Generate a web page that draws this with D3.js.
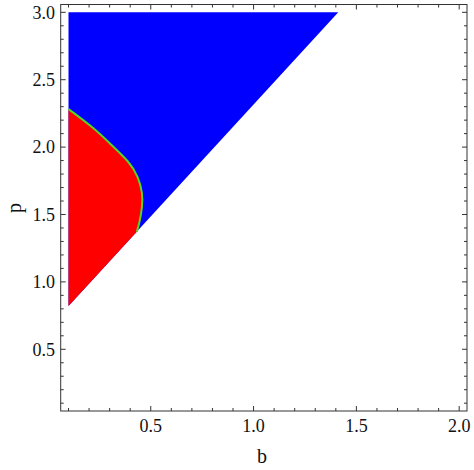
<!DOCTYPE html>
<html>
<head>
<meta charset="utf-8">
<script src="https://cdn.jsdelivr.net/npm/d3@7"></script>
<style>
  html, body { margin: 0; padding: 0; background: #fff; }
  svg { display: block; }
  text { font-family: "Liberation Serif", "DejaVu Serif", serif; fill: #111; }
</style>
</head>
<body>
<svg id="chart" width="474" height="470"></svg>
<script>
// ---- data ----
const bDomain = [0.1, 2.0];
const pDomain = [0.1, 3.0];
const xMajorTicks = [0.5, 1.0, 1.5, 2.0];
const xTickLabels = ["0.5", "1.0", "1.5", "2.0"];
const yMajorTicks = [0.5, 1.0, 1.5, 2.0, 2.5, 3.0];
const yTickLabels = ["0.5", "1.0", "1.5", "2.0", "2.5", "3.0"];
const xMinorTicks = [0.1,0.2,0.3,0.4,0.6,0.7,0.8,0.9,1.1,1.2,1.3,1.4,1.6,1.7,1.8,1.9];
const yMinorTicks = [0.1,0.2,0.3,0.4,0.6,0.7,0.8,0.9,1.1,1.2,1.3,1.4,1.6,1.7,1.8,1.9,2.1,2.2,2.3,2.4,2.6,2.7,2.8,2.9];
// feasible-region boundary (diagonal) and top edge
const boundaryB = [0.1, 1.412];
const boundaryP = [0.821, 3.0];
const topP = 3.0;
const leftB = 0.1;
// green separating curve
const greenB = [0.1, 0.217, 0.312, 0.389, 0.436, 0.457, 0.457, 0.445, 0.432];
const greenP = [2.282, 2.145, 2.012, 1.893, 1.778, 1.659, 1.555, 1.444, 1.372];

// ---- layout ----
const svg = d3.select("#chart");
const mLeft = 60.7, mRight = 467, mTop = 4.5, mBottom = 411;
const padX = (bDomain[1] - bDomain[0]) * 0.02;
const padY = (pDomain[1] - pDomain[0]) * 0.02;
const x = d3.scaleLinear().domain([bDomain[0] - padX, bDomain[1] + padX]).range([mLeft, mRight]);
const y = d3.scaleLinear().domain([pDomain[0] - padY, pDomain[1] + padY]).range([mBottom, mTop]);

// blue region (whole feasible triangle)
const blue = [[leftB, topP], [boundaryB[1], topP], [boundaryB[0], boundaryP[0]]];
svg.append("path")
  .attr("d", "M" + blue.map(d => x(d[0]) + "," + y(d[1])).join("L") + "Z")
  .attr("fill", "#0000ff");

// green curve path
const gPts = greenB.map((b, i) => [b, greenP[i]]);
const gLine = d3.line().x(d => x(d[0])).y(d => y(d[1])).curve(d3.curveNatural);
const gPath = gLine(gPts);

// red region: left edge, green curve, back along diagonal
svg.append("path")
  .attr("d", "M" + x(boundaryB[0]) + "," + y(boundaryP[0]) + "L" + gPath.slice(1) + "Z")
  .attr("fill", "#ff0000");

svg.append("path")
  .attr("d", gPath)
  .attr("fill", "none")
  .attr("stroke", "#55d42a")
  .attr("stroke-width", 2);

// frame
const frameColor = "#333";
svg.append("rect")
  .attr("x", mLeft).attr("y", mTop)
  .attr("width", mRight - mLeft).attr("height", mBottom - mTop)
  .attr("fill", "none").attr("stroke", frameColor).attr("stroke-width", 1);

const majorLen = 5, minorLen = 3;
const tg = svg.append("g").attr("stroke", frameColor).attr("stroke-width", 1);
function xTick(v, len) {
  const xx = x(v);
  tg.append("line").attr("x1", xx).attr("x2", xx).attr("y1", mBottom).attr("y2", mBottom - len);
  tg.append("line").attr("x1", xx).attr("x2", xx).attr("y1", mTop).attr("y2", mTop + len);
}
function yTick(v, len) {
  const yy = y(v);
  tg.append("line").attr("y1", yy).attr("y2", yy).attr("x1", mLeft).attr("x2", mLeft + len);
  tg.append("line").attr("y1", yy).attr("y2", yy).attr("x1", mRight).attr("x2", mRight - len);
}
xMajorTicks.forEach(v => xTick(v, majorLen));
xMinorTicks.forEach(v => xTick(v, minorLen));
yMajorTicks.forEach(v => yTick(v, majorLen));
yMinorTicks.forEach(v => yTick(v, minorLen));

// tick labels
svg.append("g").selectAll("text").data(xMajorTicks).join("text")
  .attr("x", d => x(d)).attr("y", 432)
  .attr("text-anchor", "middle").attr("font-size", 18)
  .text((d, i) => xTickLabels[i]);
svg.append("g").selectAll("text").data(yMajorTicks).join("text")
  .attr("x", 55).attr("y", d => y(d)).attr("dy", "0.35em")
  .attr("text-anchor", "end").attr("font-size", 18)
  .text((d, i) => yTickLabels[i]);

// axis labels
svg.append("text").attr("x", 262).attr("y", 463)
  .attr("text-anchor", "middle").attr("font-size", 20).text("b");
svg.append("text").attr("transform", "translate(21,208) rotate(-90)")
  .attr("text-anchor", "middle").attr("font-size", 20).text("p");
</script>
</body>
</html>
